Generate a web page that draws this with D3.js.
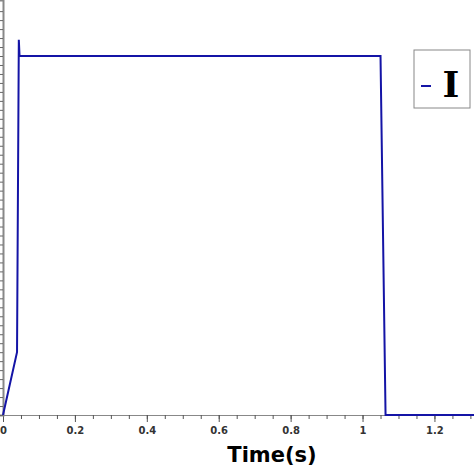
<!DOCTYPE html>
<html>
<head>
<script src="https://d3js.org/d3.v7.min.js"></script>
<style>
  body { margin: 0; background: #fff; }
  .tick text { font-family: Verdana, "DejaVu Sans", sans-serif; font-weight: bold; font-size: 10px; }
</style>
</head>
<body>
<svg width="474" height="474"></svg>
<script>
const times = [0, 0.039, 0.044, 0.046, 0.047, 1.05, 1.064, 1.32];
const current = [0, 17.5, 104.5, 100, 100, 100, 0, 0];
const xTicks = [0, 0.2, 0.4, 0.6, 0.8, 1, 1.2];
const xLabels = ["0", "0.2", "0.4", "0.6", "0.8", "1", "1.2"];

const svg = d3.select('svg');
const x = d3.scaleLinear().domain([0, 1.31]).range([3, 474]);
const y = d3.scaleLinear().domain([0, 115.6]).range([415, 0]);

// minor x ticks
svg.append('g').attr('transform', 'translate(0,415)')
  .call(d3.axisBottom(x).tickValues(d3.range(0, 1.31, 0.05)).tickSize(4).tickFormat(''))
  .call(g => g.select('.domain').attr('stroke', '#888'))
  .call(g => g.selectAll('.tick line').attr('stroke', '#555'));

svg.append('g').attr('transform', 'translate(0,415)')
  .call(d3.axisBottom(x).tickValues(xTicks).tickSize(7).tickFormat((d, i) => xLabels[i]))
  .call(g => g.select('.domain').remove())
  .call(g => g.selectAll('.tick line').attr('stroke', '#555'))
  .call(g => g.selectAll('.tick text').attr('dy', '0.9em').attr('fill', '#333'));

svg.append('g').attr('transform', 'translate(3,0)')
  .call(d3.axisLeft(y).tickValues(d3.range(0, 115, 2.5)).tickSize(3).tickFormat(''))
  .call(g => g.select('.domain').attr('stroke', '#888').attr('stroke-width', 2))
  .call(g => g.selectAll('.tick line').attr('stroke', '#666'));

svg.append('text').attr('x', 272).attr('y', 462).attr('text-anchor', 'middle')
  .attr('font-family', 'Verdana, "DejaVu Sans", sans-serif').attr('font-weight', 'bold')
  .attr('font-size', 21).text('Time(s)');

svg.append('path')
  .datum(times.map((t, i) => [t, current[i]]))
  .attr('fill', 'none').attr('stroke', '#1414a6').attr('stroke-width', 2)
  .attr('d', d3.line().x(d => x(d[0])).y(d => y(d[1])));

const lg = svg.append('g').attr('transform', 'translate(414,50)');
lg.append('rect').attr('width', 56).attr('height', 58).attr('fill', '#fff').attr('stroke', '#888');
lg.append('line').attr('x1', 7).attr('x2', 17).attr('y1', 36).attr('y2', 36).attr('stroke', '#1414a6').attr('stroke-width', 2);
lg.append('text').attr('x', 37).attr('y', 47).attr('text-anchor', 'middle')
  .attr('font-family', '"DejaVu Serif", serif').attr('font-weight', 'bold').attr('font-size', 36).text('I');
</script>
</body>
</html>
